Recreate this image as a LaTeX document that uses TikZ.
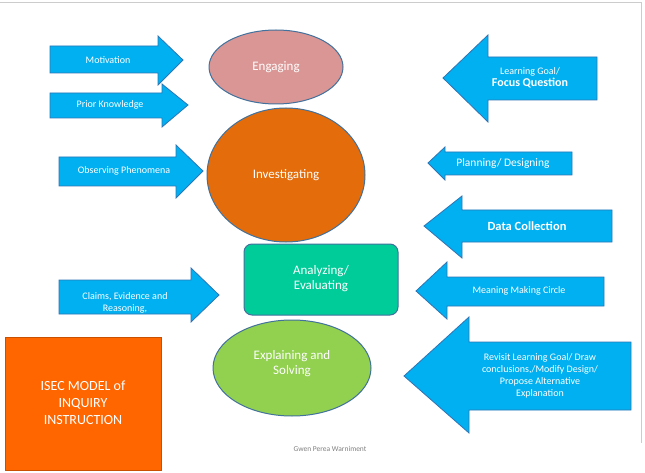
\documentclass[tikz,border=0pt]{standalone}
\usepackage{fontspec}
\setmainfont{Carlito}
\begin{document}
\begin{tikzpicture}[x=1pt,y=-1pt,
  arr/.style={fill=arrblue,draw=arrline,line width=0.8pt},
  atext/.style={text=white,font=\fontsize{10}{12}\selectfont,align=center},
  stext/.style={text=white,font=\fontsize{13}{15}\selectfont,align=center},
  shp/.style={draw=shline,line width=1pt}]
\definecolor{arrblue}{HTML}{00B0F0}
\definecolor{arrline}{HTML}{2E75B6}
\definecolor{shline}{HTML}{41719C}
\useasboundingbox (0,0) rectangle (645,473);
\fill[white] (0,0) rectangle (645,473);
\draw[gray!40] (0,2) -- (641,2) -- (641,443);
% right arrows
\draw[arr] (50,46)--(158,46)--(158,36)--(183,60)--(158,85)--(158,73)--(50,73)--cycle;
\node[atext] (mot) at (108,60) {Motivation};
\draw[arr] (50,93)--(162,93)--(162,84)--(188,105)--(162,127)--(162,118)--(50,118)--cycle;
\node[atext] (pk) at (110,105) {Prior Knowledge};
\draw[arr] (59,157)--(176,157)--(176,145)--(203,171)--(176,198)--(176,186)--(59,186)--cycle;
\node[atext] (obs) at (124,171) {Observing Phenomena};
\draw[arr] (59,280)--(191,280)--(191,268)--(219,295)--(191,322)--(191,314)--(59,314)--cycle;
\node[atext] (cer) at (125,303) {Claims, Evidence and\\Reasoning,};
% left arrows
\draw[arr] (597,57)--(488,57)--(488,35)--(443,78)--(488,122)--(488,100)--(597,100)--cycle;
\node[atext] (lg) at (530,78) {Learning Goal/\\{\fontsize{12}{14}\selectfont\bfseries Focus Question}};
\draw[arr] (572,152)--(445,152)--(445,147)--(428,163)--(445,180)--(445,175)--(572,175)--cycle;
\node[atext,font=\fontsize{11.5}{13}\selectfont] (pd) at (503,163) {Planning/ Designing};
\draw[arr] (612,210)--(462,210)--(462,196)--(424,226)--(462,258)--(462,242)--(612,242)--cycle;
\node[atext,font=\fontsize{12.5}{14}\selectfont\bfseries] (dc) at (527,226) {Data Collection};
\draw[arr] (604,277)--(447,277)--(447,262)--(416,291)--(447,319)--(447,306)--(604,306)--cycle;
\node[atext] (mm) at (519,291) {Meaning Making Circle};
\draw[arr] (631,342)--(469,342)--(469,317)--(404,376)--(469,433)--(469,410)--(631,410)--cycle;
\node[atext] (rv) at (540,376) {Revisit Learning Goal/ Draw\\conclusions,/Modify Design/\\Propose Alternative\\Explanation};
% shapes
\draw[shp,fill={rgb,255:red,217;green,150;blue,148}] (276,67) ellipse [x radius=67,y radius=37];
\node[stext] (eng) at (276,67) {Engaging};
\draw[shp,fill={rgb,255:red,228;green,108;blue,10}] (286,175) ellipse [x radius=79,y radius=67];
\node[stext] (inv) at (286,175) {Investigating};
\draw[shp,fill={rgb,255:red,0;green,204;blue,153},rounded corners=8] (244,244) rectangle (398,315);
\node[stext] (ana) at (321,279) {Analyzing/\\Evaluating};
\draw[shp,fill={rgb,255:red,146;green,208;blue,80}] (292,368) ellipse [x radius=79,y radius=48];
\node[stext] (exp) at (292,364) {Explaining and\\Solving};
\draw[fill={rgb,255:red,255;green,102;blue,0},draw={rgb,255:red,200;green,80;blue,0}] (5,337) rectangle (161,470);
\node[text=white,font=\fontsize{14}{17}\selectfont,align=center] (isec) at (83,403) {ISEC MODEL of\\INQUIRY\\INSTRUCTION};
\node[text=gray,font=\fontsize{7.5}{9}\selectfont] (auth) at (330,449) {Gwen Perea Warniment};
\end{tikzpicture}
\end{document}
